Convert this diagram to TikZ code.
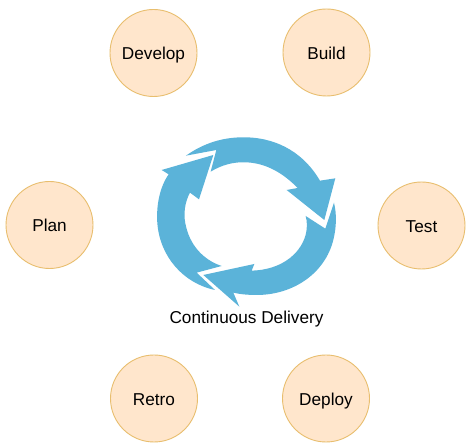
\documentclass[tikz,border=0pt]{standalone}
\usepackage{fontspec}
\setmainfont{Liberation Sans}
\definecolor{ringblue}{HTML}{5BB3D9}
\definecolor{stepfill}{HTML}{FFE6CC}
\definecolor{stepline}{HTML}{E8BE6E}
\tikzset{
  stepnode/.style={circle,draw=stepline,fill=stepfill,line width=0.9pt,minimum size=87pt,inner sep=0pt,text height=14pt,text depth=0pt,font=\fontsize{17.2pt}{20pt}\selectfont,text=black},
  ringpart/.style={fill=ringblue,draw=none},
  zoomed/.style={shift={(140pt,324pt)},x=0.3333pt,y=-0.3333pt}
}
\begin{document}
\begin{tikzpicture}[x=1pt,y=1pt]
\useasboundingbox (0,0) rectangle (474,444);
\fill[white] (0,0) rectangle (474,444);
\node[stepnode] (develop) at (153.5,391) {Develop};
\node[stepnode] (build) at (326.5,391.5) {Build};
\node[stepnode] (plan) at (49.5,219) {Plan};
\node[stepnode] (test) at (421.5,218.5) {Test};
\node[stepnode] (retro) at (154,45.5) {Retro};
\node[stepnode] (deploy) at (326,45.5) {Deploy};
\begin{scope}[zoomed]
\path[ringpart] (138,107) .. controls (190,70) and (250,50) .. (320,52)
  .. controls (420,55) and (495,105) .. (540,182)
  -- (586,175) -- (553,300) -- (440,210) -- (473,204)
  .. controls (430,160) and (380,130) .. (320,127)
  .. controls (280,125) and (245,135) .. (212,155)
  -- (229,90) -- cycle;
\path[ringpart] (582,248) .. controls (590,280) and (590,320) .. (580,360)
  .. controls (555,460) and (460,525) .. (350,525)
  .. controls (325,525) and (300,523) .. (280,518)
  -- (298,560) -- (190,465) -- (343,432) -- (335,452)
  .. controls (420,450) and (480,405) .. (497,345)
  .. controls (502,325) and (502,305) .. (497,288)
  -- (556,326) -- cycle;
\path[ringpart] (65,150) -- (220,105) -- (177,238) -- (150,218)
  .. controls (135,245) and (130,280) .. (136,310)
  .. controls (148,375) and (190,420) .. (245,438)
  -- (170,458) -- (225,510)
  .. controls (130,490) and (60,410) .. (52,310)
  .. controls (48,255) and (60,200) .. (86,163) -- cycle;
\end{scope}
\node[font=\fontsize{17.2pt}{20pt}\selectfont,text=black] (caption) at (246.5,125) {Continuous Delivery};
\end{tikzpicture}
\end{document}
